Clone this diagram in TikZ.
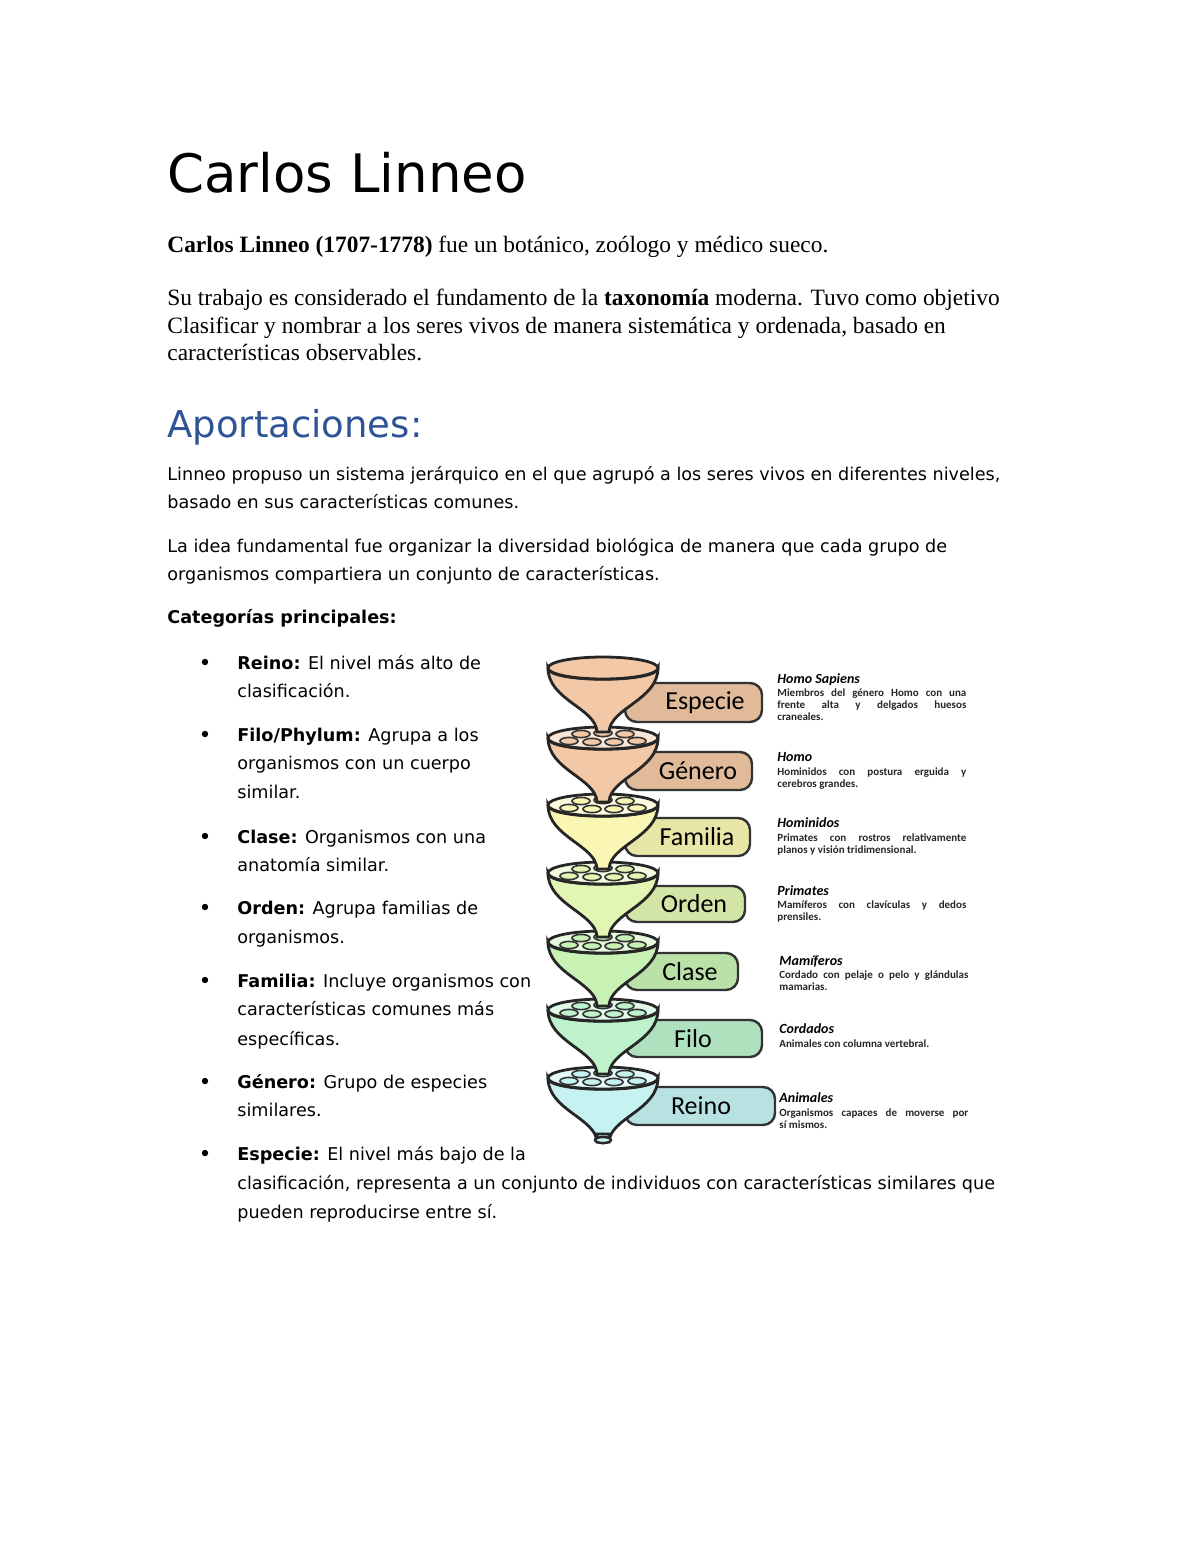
\documentclass[tikz,border=0pt]{standalone}
\usepackage{fontspec}
\setmainfont{Liberation Serif}
\newfontfamily\headsans{DejaVu Sans}
\newfontfamily\bodysans{DejaVu Sans}
\newfontfamily\boxsans{Carlito}
\usetikzlibrary{calc}
\definecolor{headblue}{HTML}{2F5496}
\definecolor{peach}{HTML}{F2C8A6}
\definecolor{lemon}{HTML}{FAF7B4}
\definecolor{lime}{HTML}{E2F6B4}
\definecolor{leaf}{HTML}{C8F2B4}
\definecolor{mint}{HTML}{BDF2CC}
\definecolor{aqua}{HTML}{C6F2F2}
\newcommand\spread[1]{\makebox[94.5pt][s]{#1}}
\tikzset{
  line/.style={inner sep=0pt, anchor=base west},
  serifline/.style={line, font=\fontsize{11.7}{13}\selectfont},
  sansline/.style={line, font=\bodysans\fontsize{8.8}{10}\selectfont},
  labelbox/.style={draw=black!80, line width=1.2pt, rounded corners=6pt},
  seed/.style={draw=black!80, line width=0.8pt}
}
\begin{document}
\begin{tikzpicture}[x=0.5pt,y=-0.5pt]
  \useasboundingbox (0,0) rectangle (1200,1553);
  \fill[white] (0,0) rectangle (1200,1553);
  % heading and paragraphs
  \node[line, font=\headsans\fontsize{26.5}{30}\selectfont] (title) at (167,192) {Carlos Linneo};
  \node[serifline] (intro) at (167,252) {\textbf{Carlos Linneo (1707-1778)} fue un botánico, zoólogo y médico sueco.};
  \node[serifline] (par1) at (167,305) {Su trabajo es considerado el fundamento de la \textbf{taxonomía} moderna. Tuvo como objetivo};
  \node[serifline] (par2) at (167,333) {Clasificar y nombrar a los seres vivos de manera sistemática y ordenada, basado en};
  \node[serifline] (par3) at (167,360) {características observables.};
  \node[line, font=\headsans\fontsize{18.5}{22}\selectfont, text=headblue] (aport) at (167,437) {Aportaciones:};
  \node[sansline] (s1) at (167,480) {Linneo propuso un sistema jerárquico en el que agrupó a los seres vivos en diferentes niveles,};
  \node[sansline] (s2) at (167,508) {basado en sus características comunes.};
  \node[sansline] (s3) at (167,552) {La idea fundamental fue organizar la diversidad biológica de manera que cada grupo de};
  \node[sansline] (s4) at (167,580) {organismos compartiera un conjunto de características.};
  \node[sansline] (cat) at (167,623) {\textbf{Categorías principales:}};
  % bullets
  \foreach \y in {662,734,836,907,980,1081,1153}
    \fill (205,\y) circle (3.2);
  \foreach \y/\txt [count=\i] in {
      669/{\textbf{Reino:} El nivel más alto de},
      697/{clasificación.},
      741/{\textbf{Filo/Phylum:} Agrupa a los},
      769/{organismos con un cuerpo},
      798/{similar.},
      843/{\textbf{Clase:} Organismos con una},
      871/{anatomía similar.},
      914/{\textbf{Orden:} Agrupa familias de},
      943/{organismos.},
      987/{\textbf{Familia:} Incluye organismos con},
      1015/{características comunes más},
      1045/{específicas.},
      1088/{\textbf{Género:} Grupo de especies},
      1116/{similares.},
      1160/{\textbf{Especie:} El nivel más bajo de la},
      1189/{clasificación, representa a un conjunto de individuos con características similares que},
      1218/{pueden reproducirse entre sí.}}
    \node[sansline] (b\i) at (237,\y) {\txt};
  % funnels, from the bottom up
  \foreach \ty/\nm/\fc/\bx/\bt/\bb/\tx/\first in {
      1078/Reino/aqua/775/1087/1125/701/0,
      1010/Filo/mint/762/1020/1057/693/0,
      942/Clase/leaf/738/953/990/690/0,
      873/Orden/lime/745/886/922/694/0,
      805/Familia/lemon/750/818/856/697/0,
      738/G\'enero/peach/752/752/790/698/0,
      668/Especie/peach/762/683/722/705/1} {
    \draw[labelbox, fill=\fc!93!black] (625,\bt) rectangle (\bx,\bb);
    \node[font=\boxsans\fontsize{13}{14}\selectfont, inner sep=0pt] (lab-\ty) at (\tx,{(\bt+\bb)/2}) {\nm};
    \draw[fill=\fc, draw=black!85, line width=1.4pt]
      (548,\ty) .. controls (548,\ty+32) and (596,\ty+40) .. (597,\ty+64)
      -- (609,\ty+64) .. controls (610,\ty+40) and (658,\ty+32) .. (658,\ty)
      .. controls (658,\ty+15) and (548,\ty+15) .. cycle;
    \ifnum\first=1
      \draw[fill=\fc, draw=black!85, line width=1.4pt] (603,\ty) ellipse [x radius=55, y radius=11];
    \else
      \draw[fill=\fc!45, draw=black!85, line width=1.4pt] (603,\ty) ellipse [x radius=55, y radius=11];
      \foreach \dx/\dy in {-22/-4,0/-5,22/-4,-34/3,-11/4,11/4,34/3}
        \draw[seed, fill=\fc] (603+\dx,\ty+\dy) ellipse [x radius=9, y radius=3.6];
    \fi
  }
  % spout of the bottom funnel
  \draw[fill=aqua, draw=black!85, line width=1.4pt]
    (597,1140) -- (597,1134) -- (609,1134) -- (609,1140)
    .. controls (606,1144) and (600,1144) .. cycle;
  \draw[fill=aqua, draw=black!85, line width=1.2pt] (603,1140) ellipse [x radius=8, y radius=3];
  % notes at the right
  \tikzset{
    ntitle/.style={line, font=\boxsans\bfseries\itshape\fontsize{7}{8}\selectfont},
    nbody/.style={line, font=\boxsans\bfseries\fontsize{5.5}{6}\selectfont, text=black!85}}
  \node[ntitle] (n1) at (777,683) {Homo Sapiens};
  \node[nbody] (n1a) at (777,696) {\spread{Miembros del género Homo con una}};
  \node[nbody] (n1b) at (777,708) {\spread{frente alta y delgados huesos}};
  \node[nbody] (n1c) at (777,720) {craneales.};
  \node[ntitle] (n2) at (777,761) {Homo};
  \node[nbody] (n2a) at (777,775) {\spread{Hominidos con postura erguida y}};
  \node[nbody] (n2b) at (777,787) {cerebros grandes.};
  \node[ntitle] (n3) at (777,827) {Hominidos};
  \node[nbody] (n3a) at (777,841) {\spread{Primates con rostros relativamente}};
  \node[nbody] (n3b) at (777,853) {planos y visión tridimensional.};
  \node[ntitle] (n4) at (777,895) {Primates};
  \node[nbody] (n4a) at (777,908) {\spread{Mamíferos con clavículas y dedos}};
  \node[nbody] (n4b) at (777,920) {prensiles.};
  \node[ntitle] (n5) at (779,965) {Mamíferos};
  \node[nbody] (n5a) at (779,978) {\spread{Cordado con pelaje o pelo y glándulas}};
  \node[nbody] (n5b) at (779,990) {mamarias.};
  \node[ntitle] (n6) at (779,1033) {Cordados};
  \node[nbody] (n6a) at (779,1047) {Animales con columna vertebral.};
  \node[ntitle] (n7) at (779,1102) {Animales};
  \node[nbody] (n7a) at (779,1116) {\spread{Organismos capaces de moverse por}};
  \node[nbody] (n7b) at (779,1128) {sí mismos.};
\end{tikzpicture}
\end{document}
